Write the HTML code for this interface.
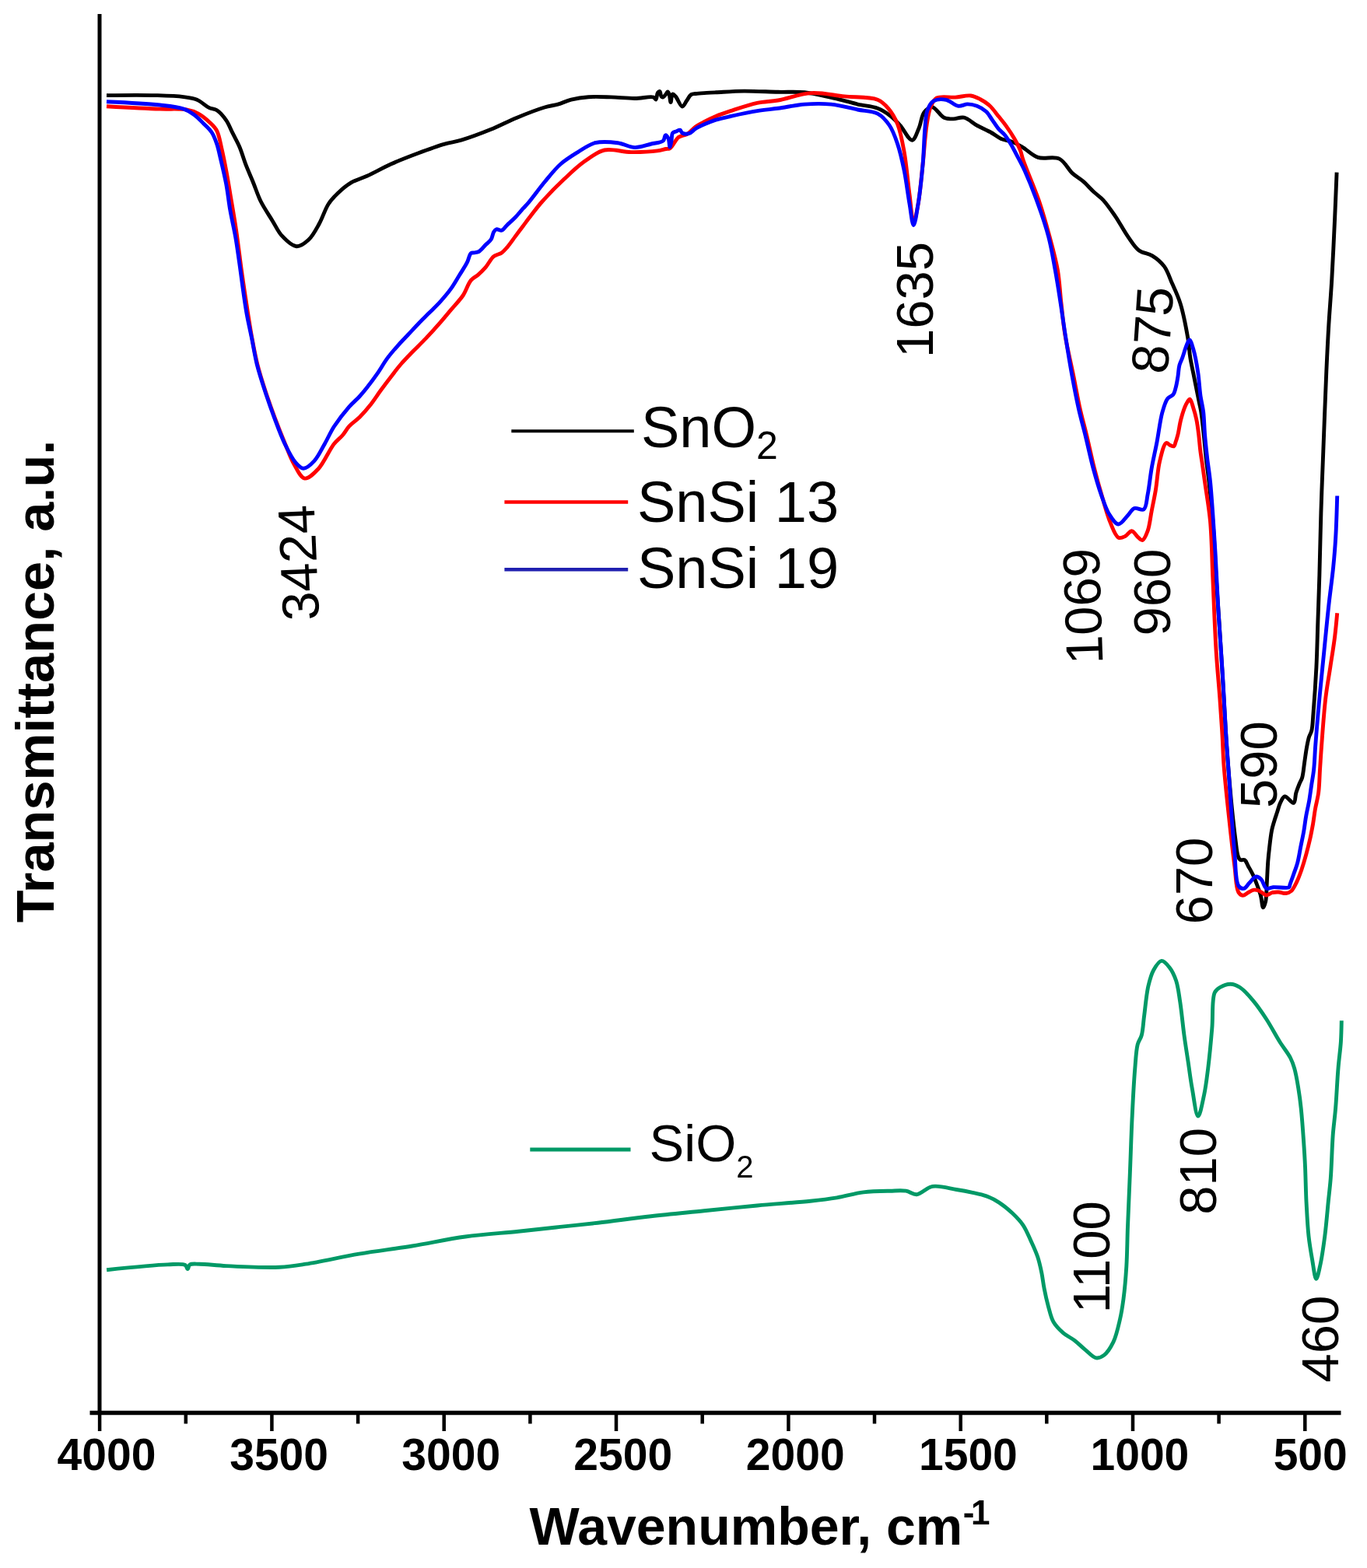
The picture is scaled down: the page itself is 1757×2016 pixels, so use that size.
<!DOCTYPE html>
<html><head><meta charset="utf-8"><title>FTIR spectra</title>
<style>
html,body{margin:0;padding:0;background:#fff;}
svg{display:block;}
text{font-family:"Liberation Sans",Arial,sans-serif;fill:#000;}
.tl{font-size:57px;font-weight:bold;text-anchor:middle;}
.ttl{font-size:68px;font-weight:bold;}
.ttl2{font-size:68.5px;font-weight:bold;}
.sup{font-size:44px;font-weight:bold;}
.lg{font-size:74px;}
.lg2{font-size:67px;}
.sub{font-size:50px;}
.sub2{font-size:40px;}
.pk{font-size:67px;}
</style></head>
<body>
<svg width="1757" height="2016" viewBox="0 0 1757 2016">
<rect width="1757" height="2016" fill="#fff"/>
<line x1="128" y1="18" x2="128" y2="1818.5" stroke="#000" stroke-width="5"/>
<line x1="115.5" y1="1816.5" x2="1723.5" y2="1816.5" stroke="#000" stroke-width="5.5"/>
<line x1="128.1" y1="1816" x2="128.1" y2="1840" stroke="#000" stroke-width="4.5"/>
<text x="137.0" y="1890" class="tl">4000</text>
<line x1="238.8" y1="1816" x2="238.8" y2="1830.5" stroke="#000" stroke-width="4.5"/>
<line x1="349.4" y1="1816" x2="349.4" y2="1840" stroke="#000" stroke-width="4.5"/>
<text x="358.6" y="1890" class="tl">3500</text>
<line x1="460.1" y1="1816" x2="460.1" y2="1830.5" stroke="#000" stroke-width="4.5"/>
<line x1="570.7" y1="1816" x2="570.7" y2="1840" stroke="#000" stroke-width="4.5"/>
<text x="579.7" y="1890" class="tl">3000</text>
<line x1="681.4" y1="1816" x2="681.4" y2="1830.5" stroke="#000" stroke-width="4.5"/>
<line x1="792.0" y1="1816" x2="792.0" y2="1840" stroke="#000" stroke-width="4.5"/>
<text x="800.7" y="1890" class="tl">2500</text>
<line x1="902.7" y1="1816" x2="902.7" y2="1830.5" stroke="#000" stroke-width="4.5"/>
<line x1="1013.4" y1="1816" x2="1013.4" y2="1840" stroke="#000" stroke-width="4.5"/>
<text x="1022.2" y="1890" class="tl">2000</text>
<line x1="1124.0" y1="1816" x2="1124.0" y2="1830.5" stroke="#000" stroke-width="4.5"/>
<line x1="1234.7" y1="1816" x2="1234.7" y2="1840" stroke="#000" stroke-width="4.5"/>
<text x="1244.4" y="1890" class="tl">1500</text>
<line x1="1345.3" y1="1816" x2="1345.3" y2="1830.5" stroke="#000" stroke-width="4.5"/>
<line x1="1456.0" y1="1816" x2="1456.0" y2="1840" stroke="#000" stroke-width="4.5"/>
<text x="1464.9" y="1890" class="tl">1000</text>
<line x1="1566.6" y1="1816" x2="1566.6" y2="1830.5" stroke="#000" stroke-width="4.5"/>
<line x1="1677.3" y1="1816" x2="1677.3" y2="1840" stroke="#000" stroke-width="4.5"/>
<text x="1684.2" y="1890" class="tl">500</text>
<path d="M137.1,1632.7C137.1,1632.7 197.4,1626.4 215.6,1625.9C225.3,1625.6 234.1,1624.3 238.0,1626.5C240.0,1627.6 240.2,1631.5 241.2,1631.5C242.2,1631.5 242.2,1627.2 244.0,1626.0C246.5,1624.3 251.4,1625.2 256.6,1625.2C265.2,1625.2 277.4,1627.0 290.8,1627.6C309.7,1628.5 340.3,1630.2 359.1,1629.3C372.4,1628.7 379.9,1627.3 393.2,1625.2C412.1,1622.3 438.7,1616.1 461.5,1612.2C484.2,1608.3 507.1,1605.7 529.8,1602.0C552.6,1598.3 575.3,1593.1 598.1,1590.0C620.8,1586.9 645.0,1585.4 666.4,1583.2C685.4,1581.2 702.6,1579.3 720.0,1577.4C736.5,1575.6 750.8,1574.2 768.3,1572.2C789.1,1569.8 813.8,1566.3 836.6,1563.7C859.4,1561.1 882.1,1559.1 904.9,1556.8C927.7,1554.5 950.4,1552.1 973.2,1550.0C996.0,1547.9 1022.6,1546.2 1041.5,1544.2C1054.9,1542.8 1064.3,1541.7 1075.7,1539.8C1087.1,1537.9 1098.4,1534.3 1109.8,1532.9C1121.1,1531.5 1134.0,1531.4 1144.0,1531.2C1151.7,1531.0 1158.4,1530.2 1164.5,1531.2C1169.6,1532.0 1173.2,1536.1 1178.1,1535.7C1184.3,1535.2 1190.8,1526.7 1198.6,1525.4C1207.6,1523.9 1220.2,1528.0 1229.4,1529.5C1237.0,1530.7 1243.5,1531.9 1250.0,1533.3C1256.0,1534.6 1261.5,1535.5 1267.1,1537.6C1272.9,1539.7 1278.6,1542.6 1284.1,1546.1C1290.0,1549.9 1296.0,1554.9 1301.2,1559.8C1306.2,1564.6 1311.0,1569.3 1314.9,1575.1C1319.0,1581.2 1321.9,1588.7 1325.1,1595.6C1328.2,1602.4 1331.4,1609.2 1333.7,1616.1C1335.9,1622.8 1337.4,1629.7 1338.8,1636.6C1340.2,1643.4 1340.8,1650.2 1342.2,1657.1C1343.6,1664.4 1345.3,1672.1 1347.3,1679.3C1349.3,1686.3 1350.7,1694.0 1354.1,1699.8C1357.2,1705.2 1361.6,1709.4 1366.1,1713.4C1370.7,1717.4 1376.6,1720.0 1381.5,1723.7C1386.3,1727.4 1390.5,1731.9 1395.1,1735.6C1399.6,1739.2 1404.4,1745.2 1408.8,1745.9C1412.3,1746.5 1415.8,1744.8 1419.0,1742.4C1423.4,1739.1 1427.7,1732.1 1431.0,1725.4C1434.9,1717.3 1437.3,1705.8 1439.5,1696.3C1441.6,1687.4 1442.7,1679.8 1444.0,1670.0C1445.6,1657.7 1446.9,1642.9 1447.8,1628.3C1448.8,1612.1 1448.8,1595.1 1449.5,1576.8C1450.3,1555.8 1451.4,1532.3 1452.3,1509.3C1453.3,1485.1 1454.0,1458.5 1455.2,1434.9C1456.2,1413.5 1457.4,1390.6 1458.8,1373.7C1459.8,1361.7 1460.2,1350.7 1462.2,1342.9C1463.5,1337.9 1466.0,1335.8 1467.3,1331.0C1469.2,1324.2 1469.4,1314.7 1470.7,1305.4C1472.2,1294.1 1473.4,1278.4 1475.9,1267.8C1477.8,1259.8 1479.5,1253.0 1482.7,1247.3C1485.4,1242.5 1489.3,1235.7 1492.9,1235.4C1496.2,1235.1 1500.3,1240.2 1503.2,1243.9C1506.7,1248.3 1509.5,1254.5 1511.7,1261.0C1514.3,1268.9 1515.2,1278.2 1516.8,1288.3C1518.7,1300.9 1520.2,1317.6 1522.0,1331.0C1523.6,1343.0 1525.4,1353.7 1527.1,1365.1C1528.8,1376.5 1530.1,1387.8 1532.2,1399.3C1534.4,1411.1 1537.1,1435.0 1539.9,1435.1C1542.3,1435.2 1545.5,1417.5 1547.6,1407.8C1549.9,1397.1 1551.1,1386.2 1552.7,1373.7C1554.6,1358.4 1556.4,1339.1 1557.8,1322.4C1559.2,1306.6 1557.4,1284.5 1561.2,1276.3C1562.9,1272.5 1565.1,1271.3 1568.0,1269.5C1571.6,1267.3 1577.3,1265.1 1581.7,1265.2C1585.8,1265.3 1589.6,1266.9 1593.7,1269.5C1599.3,1273.0 1605.3,1280.2 1610.7,1286.6C1616.7,1293.7 1622.3,1302.0 1627.8,1310.5C1633.7,1319.6 1639.4,1330.7 1644.9,1339.5C1649.6,1347.0 1655.3,1353.7 1658.5,1360.0C1661.0,1364.9 1662.2,1368.4 1663.7,1373.7C1665.8,1380.8 1667.4,1390.7 1668.8,1399.3C1670.2,1407.8 1671.2,1415.3 1672.2,1424.9C1673.5,1437.3 1674.7,1454.3 1675.6,1467.6C1676.4,1479.1 1677.0,1488.3 1677.5,1500.0C1678.1,1513.7 1678.3,1529.7 1679.0,1544.6C1679.8,1559.5 1680.5,1575.9 1682.0,1589.3C1683.2,1600.2 1684.8,1609.5 1686.5,1619.0C1688.1,1627.8 1689.8,1644.2 1691.7,1644.3C1693.3,1644.4 1695.3,1633.6 1696.9,1626.5C1699.2,1616.4 1701.1,1602.3 1702.8,1589.3C1704.6,1575.1 1706.0,1558.0 1707.3,1544.6C1708.4,1533.7 1709.4,1526.4 1710.3,1514.9C1711.5,1499.2 1712.0,1475.3 1713.2,1459.0C1714.2,1446.2 1715.6,1437.4 1716.6,1424.9C1717.9,1409.6 1718.7,1389.0 1720.0,1373.7C1721.0,1361.1 1722.7,1350.3 1723.4,1339.5C1724.0,1329.9 1724.3,1312.2 1724.3,1312.2" fill="none" stroke="#009966" stroke-width="4.9" stroke-linejoin="round" stroke-linecap="butt"/>
<path d="M137.0,122.6C137.0,122.6 182.1,122.1 200.2,122.6C213.8,123.0 226.3,123.3 236.0,124.6C242.8,125.5 247.8,126.0 253.2,128.2C258.7,130.5 263.8,136.1 268.5,138.4C272.1,140.2 275.5,139.7 278.8,141.8C283.0,144.5 287.3,149.8 290.7,154.6C294.2,159.7 296.4,166.0 299.3,171.7C302.1,177.4 305.1,182.5 307.8,188.8C310.9,196.0 313.3,205.1 316.3,212.7C319.1,219.8 321.9,226.0 324.9,233.2C328.2,241.2 331.0,250.4 335.1,258.8C339.4,267.5 345.7,276.5 350.5,284.4C354.7,291.2 357.4,297.8 362.4,303.2C367.5,308.7 375.1,316.4 381.2,316.8C386.5,317.1 392.1,312.5 396.6,308.3C402.0,303.4 406.1,295.2 410.2,287.8C414.6,279.9 417.7,269.2 422.2,262.2C425.8,256.6 429.5,252.9 434.1,248.5C439.1,243.7 445.0,238.6 451.2,234.9C457.5,231.2 464.2,229.7 471.7,226.3C481.0,222.1 491.8,215.8 502.4,211.0C513.4,206.1 525.2,201.6 536.6,197.3C547.9,193.1 560.5,188.4 570.7,185.4C578.8,183.0 584.6,182.7 592.9,180.2C603.9,176.9 618.4,171.5 630.5,166.6C642.2,161.8 653.0,156.0 664.6,151.2C676.2,146.4 690.2,140.9 700.0,138.0C706.6,136.0 711.5,135.7 717.1,134.1C722.8,132.5 728.0,129.7 734.1,128.2C740.9,126.5 748.4,125.3 756.3,124.7C765.3,124.0 775.6,124.6 785.4,124.9C795.5,125.2 806.5,126.6 816.1,126.5C824.5,126.5 835.8,123.5 839.9,125.0C841.6,125.6 842.2,128.2 843.0,128.0C844.2,127.7 844.2,120.6 845.5,119.0C846.2,118.1 847.3,117.2 848.0,117.5C849.0,117.9 849.0,122.8 850.0,124.0C850.6,124.7 851.3,125.1 852.0,125.0C853.2,124.8 854.9,122.3 856.0,121.0C856.9,120.0 857.4,118.0 858.1,118.0C858.8,118.0 859.5,119.6 860.0,121.0C861.0,123.4 861.4,131.5 862.1,131.5C862.8,131.5 862.9,121.5 864.4,121.0C865.4,120.6 867.0,122.5 868.4,124.0C870.9,126.7 874.3,136.9 876.9,137.0C878.9,137.1 880.7,132.1 882.6,129.6C884.5,127.0 886.1,123.0 888.3,121.6C890.0,120.5 891.7,120.8 894.0,120.5C897.7,120.0 903.7,119.7 908.2,119.4C912.3,119.1 915.0,119.0 920.0,118.8C928.8,118.4 943.5,117.2 956.1,117.1C970.0,117.0 986.3,118.0 1000.0,118.3C1012.1,118.6 1022.2,117.5 1034.1,118.8C1047.6,120.2 1064.4,124.4 1076.8,127.3C1086.5,129.5 1093.8,132.1 1102.4,134.1C1110.9,136.1 1120.5,136.4 1128.0,139.3C1134.5,141.8 1140.1,145.6 1145.1,149.5C1149.7,153.1 1153.0,156.9 1157.1,161.5C1162.0,166.9 1168.2,180.6 1172.4,180.2C1175.9,179.9 1178.5,170.5 1181.0,164.9C1183.7,158.7 1184.3,149.1 1187.8,144.4C1190.5,140.9 1194.4,137.4 1198.0,137.6C1202.7,137.9 1208.2,148.8 1213.4,151.2C1217.4,153.0 1221.3,152.9 1225.4,152.9C1229.8,152.9 1234.4,150.2 1239.0,151.2C1244.6,152.4 1250.3,158.3 1256.1,161.5C1261.7,164.6 1267.9,167.0 1273.2,170.0C1278.1,172.7 1282.1,176.5 1286.8,178.5C1291.1,180.4 1295.6,180.4 1300.0,182.0C1304.6,183.7 1308.8,186.0 1313.7,188.8C1319.9,192.4 1326.4,199.8 1334.1,202.4C1342.2,205.1 1354.0,200.5 1361.5,204.1C1368.7,207.6 1372.9,217.8 1378.5,222.9C1383.1,227.1 1387.8,229.4 1392.2,233.2C1396.9,237.3 1401.4,242.7 1405.9,246.8C1409.9,250.5 1413.8,252.8 1417.8,257.1C1422.9,262.6 1428.1,270.2 1433.2,277.6C1438.9,285.9 1444.6,297.0 1450.2,304.9C1454.8,311.4 1458.5,318.0 1463.9,322.0C1468.9,325.7 1475.7,325.5 1481.0,328.8C1486.6,332.2 1492.1,336.8 1496.3,342.4C1500.9,348.5 1503.2,356.9 1506.6,364.6C1510.2,372.7 1513.9,380.2 1517.0,390.0C1521.0,402.7 1524.6,422.1 1526.8,434.9C1528.4,444.3 1528.5,451.5 1529.8,459.7C1531.1,468.0 1533.3,477.3 1534.7,484.5C1535.8,490.1 1536.6,494.1 1537.7,499.4C1538.9,505.5 1540.6,513.7 1541.7,519.2C1542.5,523.1 1543.0,524.9 1543.7,529.1C1544.9,536.5 1546.2,549.8 1547.3,560.0C1548.4,570.1 1549.2,580.0 1550.3,590.0C1551.4,600.0 1552.7,608.3 1554.0,620.0C1555.8,636.6 1558.1,660.0 1559.6,680.0C1561.1,700.0 1561.8,720.0 1563.0,740.0C1564.2,760.0 1565.6,778.6 1567.0,800.0C1568.6,824.8 1570.5,854.2 1572.0,880.0C1573.4,904.1 1574.6,928.4 1576.0,950.0C1577.2,968.6 1578.6,985.0 1580.0,1002.0C1581.4,1018.3 1583.0,1035.9 1584.5,1050.0C1585.7,1061.2 1586.8,1071.0 1588.0,1080.0C1589.0,1087.3 1589.5,1095.5 1591.0,1100.0C1591.8,1102.5 1592.5,1104.6 1594.0,1105.5C1595.4,1106.4 1598.1,1104.7 1599.7,1105.7C1601.7,1106.9 1602.7,1110.8 1604.4,1113.7C1606.4,1117.3 1608.9,1121.6 1610.8,1125.6C1612.6,1129.5 1614.1,1133.4 1615.6,1137.5C1617.2,1141.8 1619.0,1146.3 1620.3,1151.0C1621.7,1156.0 1622.2,1166.7 1623.5,1166.8C1624.4,1166.9 1625.9,1162.3 1626.7,1158.9C1628.0,1153.2 1627.8,1143.3 1628.3,1135.1C1628.8,1126.2 1629.2,1115.3 1629.8,1107.3C1630.3,1101.3 1630.7,1097.2 1631.4,1091.4C1632.2,1084.3 1633.3,1074.1 1634.6,1067.6C1635.5,1062.9 1636.6,1059.7 1637.8,1055.7C1639.0,1051.7 1640.4,1047.8 1641.7,1043.8C1643.0,1039.8 1643.9,1035.4 1645.7,1031.9C1647.2,1028.9 1648.8,1024.4 1651.3,1024.0C1654.3,1023.5 1660.4,1033.3 1662.8,1032.4C1665.1,1031.5 1664.6,1023.6 1665.8,1019.5C1667.0,1015.5 1668.6,1011.5 1670.0,1008.0C1671.2,1005.0 1672.7,1003.1 1673.7,999.7C1675.2,994.6 1675.7,986.4 1676.7,979.8C1677.7,973.2 1678.6,965.8 1679.7,960.0C1680.6,955.4 1681.3,951.5 1682.4,947.8C1683.4,944.7 1684.9,942.9 1685.8,939.3C1687.2,933.7 1687.2,926.4 1688.0,917.3C1689.2,902.3 1690.9,877.6 1691.9,857.8C1692.9,838.0 1693.2,818.1 1693.9,798.3C1694.6,778.4 1695.3,760.0 1695.9,738.7C1696.6,714.2 1697.1,685.8 1697.9,659.4C1698.7,632.9 1699.7,608.1 1700.8,580.0C1702.0,548.0 1703.5,507.1 1704.8,477.6C1705.8,455.1 1706.6,437.9 1707.8,418.1C1709.0,398.3 1710.6,379.9 1711.8,358.6C1713.2,334.0 1714.6,303.5 1715.7,279.2C1716.6,258.5 1718.1,221.7 1718.1,221.7" fill="none" stroke="#000" stroke-width="4.9" stroke-linejoin="round" stroke-linecap="butt"/>
<path d="M137.0,136.7C137.0,136.7 186.5,139.4 205.4,140.1C218.7,140.6 230.5,139.4 239.5,141.0C245.7,142.1 250.0,143.5 254.9,146.1C260.3,149.0 266.0,153.9 270.2,158.0C273.7,161.4 276.5,163.9 278.8,168.3C281.8,174.1 282.9,182.4 284.8,190.5C287.1,200.2 289.4,212.2 291.4,222.9C293.3,233.3 294.8,242.6 296.6,253.7C298.8,266.7 301.4,281.4 303.6,296.3C306.0,312.6 308.0,330.4 310.4,347.6C312.8,365.0 315.8,384.4 318.2,400.0C320.2,412.6 321.7,422.7 323.8,434.1C325.9,445.5 328.0,457.0 330.8,468.3C333.7,479.7 337.3,491.1 341.0,502.4C344.7,513.8 348.8,525.3 353.0,536.6C357.3,548.0 362.1,560.1 366.5,570.7C370.4,580.1 373.5,589.3 378.0,597.0C382.0,603.9 386.4,614.3 391.7,615.1C396.8,615.9 403.4,608.9 408.8,603.2C416.2,595.5 423.2,578.4 429.3,570.7C433.1,565.9 436.7,563.8 440.0,560.0C443.3,556.2 445.4,551.7 448.9,547.9C452.7,543.8 458.0,540.6 462.3,536.3C466.9,531.7 471.4,526.6 475.7,521.1C480.3,515.3 484.6,508.5 489.1,502.3C493.5,496.3 498.0,490.3 502.5,484.5C506.9,478.7 511.3,472.8 515.9,467.5C520.3,462.4 524.5,458.2 529.3,453.2C534.8,447.5 541.2,441.6 547.1,435.4C553.1,429.1 559.4,422.2 565.0,415.7C570.3,409.7 575.0,403.8 580.0,397.9C585.0,391.9 590.7,386.3 595.0,380.0C599.1,373.8 601.4,365.0 605.3,360.4C608.0,357.1 611.2,356.2 614.2,353.6C617.6,350.6 621.1,347.1 624.4,343.3C627.9,339.2 630.8,332.8 634.6,329.7C637.7,327.2 642.0,326.9 644.9,324.9C647.6,323.0 649.3,320.9 651.7,318.1C654.9,314.4 658.6,309.0 662.0,304.4C665.4,299.8 668.8,295.3 672.2,290.7C675.6,286.2 678.8,281.9 682.5,277.1C686.7,271.7 690.5,266.3 696.1,260.0C703.9,251.2 715.9,238.9 725.6,229.8C734.3,221.6 742.3,213.9 751.2,207.6C759.5,201.8 767.3,195.1 776.8,193.0C787.1,190.7 799.6,195.5 811.0,195.6C822.4,195.7 836.9,195.0 845.1,193.9C849.8,193.3 853.1,192.0 856.0,191.5C857.8,191.2 859.2,191.6 860.5,191.0C861.9,190.3 862.9,188.9 864.0,187.5C865.4,185.8 866.6,183.4 868.0,181.5C869.3,179.7 870.4,177.7 872.0,176.5C873.5,175.4 875.2,175.1 877.0,174.5C878.9,173.8 880.8,173.7 883.0,172.5C886.3,170.6 890.2,165.7 894.0,163.0C897.6,160.4 901.3,158.6 905.4,156.5C909.9,154.1 914.8,151.7 920.0,149.5C925.9,147.1 931.7,145.1 939.0,142.7C948.7,139.5 962.4,134.7 973.2,132.4C982.6,130.4 990.1,130.7 1000.0,129.0C1012.6,126.8 1028.4,120.4 1042.7,119.6C1056.9,118.8 1071.2,122.5 1085.4,123.9C1099.6,125.3 1118.1,124.1 1128.0,128.2C1134.3,130.8 1137.7,134.6 1141.7,139.3C1146.4,144.8 1150.5,151.7 1153.7,159.8C1157.7,169.8 1159.8,182.4 1162.2,195.6C1165.1,211.8 1166.8,233.7 1169.0,250.0C1170.8,263.2 1172.1,285.9 1174.2,286.0C1175.9,286.1 1178.4,271.7 1180.1,262.2C1182.6,248.4 1184.2,228.1 1186.1,211.0C1187.9,193.9 1189.0,173.4 1191.2,159.8C1192.7,150.6 1193.7,143.0 1196.3,137.0C1198.3,132.4 1199.9,128.2 1203.9,126.0C1209.2,123.1 1220.2,125.6 1227.8,125.1C1234.7,124.6 1242.0,122.3 1247.7,123.0C1252.3,123.6 1255.8,125.5 1259.7,127.5C1263.8,129.6 1267.8,132.1 1271.6,135.5C1275.9,139.3 1279.9,145.2 1283.6,149.8C1287.0,154.0 1290.0,157.4 1293.1,161.8C1296.6,166.7 1300.4,172.3 1303.5,177.7C1306.5,182.9 1309.5,188.6 1311.5,193.7C1313.2,198.0 1313.2,200.5 1315.1,205.9C1319.0,217.4 1329.8,241.7 1335.6,258.8C1341.0,274.6 1345.1,289.8 1349.2,304.9C1353.1,319.4 1357.0,333.3 1359.5,347.6C1361.9,361.7 1362.4,376.0 1364.0,390.0C1365.6,403.8 1366.6,416.6 1369.0,431.0C1371.6,447.1 1376.2,465.7 1379.5,482.0C1382.5,496.9 1385.0,511.5 1388.0,525.0C1390.7,537.0 1393.6,547.0 1396.5,559.0C1399.8,572.5 1403.0,588.1 1406.5,602.0C1409.8,615.1 1413.4,627.9 1417.0,640.0C1420.3,651.3 1423.4,663.2 1427.3,672.4C1430.4,679.7 1433.5,689.3 1437.6,691.2C1440.2,692.4 1443.4,690.8 1446.1,689.5C1449.1,688.1 1451.8,682.6 1454.6,682.7C1457.5,682.9 1460.6,689.1 1463.2,691.2C1465.0,692.7 1466.7,695.0 1468.3,694.6C1470.7,694.0 1473.3,687.6 1475.1,682.7C1477.6,675.9 1478.5,665.7 1480.2,657.0C1481.9,648.1 1483.8,639.7 1485.4,630.0C1487.3,618.7 1487.9,604.2 1490.5,593.4C1492.7,584.5 1495.7,570.7 1499.0,569.5C1500.6,568.9 1502.3,571.8 1504.0,572.5C1505.6,573.2 1507.8,574.4 1508.9,573.8C1510.1,573.2 1510.2,570.8 1510.9,568.8C1511.9,566.1 1512.9,562.8 1513.9,558.9C1515.3,553.4 1516.1,545.6 1517.9,539.0C1519.7,532.3 1522.4,523.7 1524.8,519.2C1526.3,516.5 1527.9,513.1 1529.3,513.3C1531.0,513.5 1532.4,520.2 1533.7,524.2C1535.2,528.7 1536.6,533.7 1537.7,539.0C1539.0,545.1 1539.9,552.3 1540.7,558.9C1541.5,565.5 1541.9,572.1 1542.7,578.7C1543.5,585.3 1544.6,591.8 1545.6,598.6C1546.6,605.6 1547.4,611.4 1548.6,620.0C1550.4,633.2 1553.8,651.8 1555.5,670.0C1557.5,691.9 1557.6,716.8 1558.8,742.4C1560.1,771.4 1561.3,806.9 1563.0,835.0C1564.4,858.6 1566.6,880.3 1568.0,900.0C1569.2,916.4 1570.1,930.4 1571.0,945.0C1571.8,958.8 1571.9,970.2 1573.1,985.4C1574.6,1005.2 1577.5,1031.7 1579.9,1053.7C1582.1,1074.3 1584.6,1096.4 1586.8,1113.4C1588.5,1126.2 1588.4,1141.3 1591.7,1147.0C1593.2,1149.6 1595.3,1151.1 1597.3,1151.3C1599.5,1151.5 1602.0,1148.7 1604.4,1147.5C1606.8,1146.3 1609.3,1144.6 1611.6,1144.2C1613.5,1143.9 1615.3,1144.2 1617.1,1144.8C1619.2,1145.5 1621.6,1147.5 1623.5,1148.6C1625.0,1149.5 1625.9,1150.9 1627.5,1151.0C1629.7,1151.1 1632.7,1148.2 1635.4,1147.5C1638.0,1146.9 1640.5,1146.9 1643.3,1147.0C1646.4,1147.1 1650.0,1148.9 1652.9,1148.5C1655.4,1148.2 1657.7,1147.3 1659.8,1145.5C1662.6,1143.0 1664.7,1137.9 1666.8,1133.6C1669.1,1129.0 1670.8,1124.1 1672.7,1118.7C1674.8,1112.6 1676.9,1105.5 1678.7,1098.9C1680.5,1092.3 1682.2,1085.6 1683.7,1079.0C1685.2,1072.4 1686.4,1065.8 1687.6,1059.2C1688.7,1052.6 1689.4,1046.0 1690.6,1039.4C1691.8,1032.8 1693.6,1026.8 1694.6,1019.5C1695.8,1010.6 1695.9,999.7 1696.5,989.8C1697.2,979.9 1697.6,971.7 1698.5,960.0C1699.8,943.0 1701.6,915.9 1703.8,897.5C1705.5,882.7 1707.8,871.0 1709.8,857.8C1711.8,844.6 1714.2,830.4 1715.7,818.1C1717.0,807.5 1718.7,788.3 1718.7,788.3" fill="none" stroke="#ff0000" stroke-width="4.9" stroke-linejoin="round" stroke-linecap="butt"/>
<path d="M137.0,130.7C137.0,130.7 187.1,132.9 205.4,135.0C217.7,136.4 228.1,137.3 236.1,140.1C241.8,142.1 245.6,144.7 249.8,147.8C254.1,151.0 257.9,155.1 261.7,158.9C265.3,162.5 269.2,165.7 272.0,170.0C275.0,174.5 276.9,179.8 278.8,185.4C280.9,191.7 282.1,198.4 283.9,205.9C286.1,215.1 288.7,226.1 290.7,236.6C292.8,247.6 293.9,259.3 295.9,270.7C297.9,282.1 300.7,293.5 302.7,304.9C304.7,316.3 305.9,326.0 307.8,339.0C310.3,356.4 313.5,382.6 316.5,400.0C318.7,413.0 321.1,422.7 323.4,434.1C325.7,445.5 327.4,457.0 330.2,468.3C333.1,479.7 336.8,491.1 340.5,502.4C344.2,513.8 348.2,525.3 352.4,536.6C356.7,548.0 361.2,560.5 366.1,570.7C370.4,579.5 375.0,589.1 379.8,594.6C383.1,598.3 386.3,602.2 390.0,602.3C394.2,602.4 399.6,597.3 403.7,592.9C408.9,587.4 413.0,578.2 417.3,570.7C421.5,563.4 424.5,556.0 429.3,548.5C434.8,540.1 442.8,529.9 448.9,522.9C453.6,517.5 458.4,513.8 462.3,509.5C465.7,505.8 468.1,502.9 471.3,498.8C475.4,493.6 480.3,487.1 484.6,480.9C489.2,474.4 493.3,466.7 498.0,460.4C502.3,454.6 506.9,449.4 511.4,444.3C515.8,439.3 520.3,434.8 524.8,430.0C529.3,425.2 533.7,420.4 538.2,415.7C542.6,411.1 547.1,406.8 551.6,402.3C556.1,397.8 560.5,393.8 565.0,388.9C570.0,383.4 575.7,376.8 580.0,370.7C583.9,365.2 586.8,359.8 590.2,354.3C593.6,348.7 597.9,342.4 600.5,337.2C602.6,333.0 603.2,327.3 605.3,325.6C606.5,324.6 607.9,325.2 609.4,324.9C611.2,324.5 613.4,324.6 615.5,323.5C618.4,321.9 621.6,317.4 624.4,314.6C626.8,312.2 629.5,310.5 631.2,307.8C632.9,305.1 633.2,300.6 634.6,298.3C635.6,296.7 636.6,295.3 638.1,294.8C639.9,294.3 642.8,296.8 644.9,296.2C647.4,295.5 649.2,291.8 651.7,289.4C654.8,286.5 658.7,283.2 662.0,279.8C665.5,276.2 669.0,271.7 672.2,268.2C674.9,265.2 676.7,263.6 679.7,260.0C684.9,253.8 693.1,242.3 700.0,234.0C706.7,226.0 713.1,217.5 720.5,211.0C727.4,204.9 735.2,200.2 742.7,195.6C750.0,191.1 756.7,185.8 764.9,183.7C773.7,181.5 784.9,182.5 793.9,183.7C801.9,184.7 808.8,189.4 816.1,189.6C823.2,189.8 830.7,186.5 837.1,185.0C842.6,183.7 849.5,183.6 852.4,181.0C854.4,179.2 854.1,174.0 855.3,173.8C856.3,173.6 858.1,176.1 859.0,178.0C860.3,180.7 860.3,189.0 861.0,189.0C861.6,189.0 862.4,183.8 863.0,181.0C863.6,177.9 863.1,172.9 864.6,171.0C865.6,169.7 867.5,169.6 869.0,169.0C870.6,168.3 872.7,166.8 874.1,167.2C875.4,167.6 875.5,170.2 877.0,171.0C879.0,172.1 882.8,172.5 885.5,171.7C888.5,170.9 890.9,167.4 894.0,165.5C897.4,163.4 901.3,161.6 905.4,159.8C909.9,157.8 914.8,155.8 920.0,154.1C925.9,152.3 931.7,151.1 939.0,149.5C948.7,147.4 962.5,144.4 973.2,142.7C982.6,141.2 990.5,140.6 1000.0,139.3C1010.7,137.8 1022.7,135.0 1034.1,134.1C1045.5,133.2 1057.0,133.0 1068.3,134.1C1079.7,135.2 1091.8,138.9 1102.4,141.0C1111.5,142.8 1121.0,142.4 1128.0,146.1C1134.4,149.5 1139.2,155.3 1143.4,161.5C1148.0,168.2 1150.7,176.6 1153.7,185.4C1157.2,195.6 1159.7,207.4 1162.2,219.5C1164.9,232.9 1166.8,249.6 1169.0,262.2C1170.8,272.3 1172.4,289.5 1174.2,289.5C1176.1,289.5 1178.3,272.8 1180.1,262.2C1182.5,247.8 1184.6,227.6 1186.1,211.0C1187.5,195.5 1187.6,178.5 1188.8,165.8C1189.7,156.6 1189.6,148.3 1192.0,141.9C1193.8,137.0 1196.1,132.2 1199.9,129.9C1203.9,127.5 1210.7,127.3 1215.9,128.3C1221.4,129.3 1226.8,135.6 1231.8,136.3C1236.0,136.9 1239.7,133.9 1243.7,133.9C1247.7,133.9 1251.8,134.8 1255.7,136.3C1259.8,137.9 1264.3,140.4 1267.6,143.5C1270.9,146.5 1272.9,150.9 1275.6,154.6C1278.3,158.3 1280.8,162.5 1283.6,165.8C1286.1,168.8 1289.1,170.6 1291.6,173.7C1294.4,177.2 1297.1,181.7 1299.5,185.7C1301.8,189.6 1303.5,193.0 1305.9,197.6C1309.1,203.8 1313.2,210.9 1317.1,219.5C1322.4,231.3 1329.0,247.9 1334.1,262.2C1339.2,276.3 1344.1,290.6 1347.8,304.9C1351.5,319.0 1353.7,333.4 1356.3,347.6C1358.9,361.7 1361.0,376.0 1363.2,390.0C1365.3,403.8 1367.0,416.7 1369.3,431.2C1371.8,447.4 1374.8,466.1 1377.8,482.4C1380.5,497.3 1383.3,511.7 1386.3,525.1C1389.0,537.2 1391.9,547.3 1394.9,559.3C1398.2,572.7 1401.5,588.6 1405.1,602.0C1408.4,614.1 1411.7,625.7 1415.4,636.1C1418.6,645.1 1421.4,654.3 1425.6,661.0C1429.0,666.4 1433.5,673.9 1437.6,674.0C1441.5,674.1 1445.9,666.4 1449.5,662.8C1452.6,659.6 1454.5,654.8 1458.0,653.5C1461.4,652.2 1467.2,656.9 1470.0,655.0C1473.6,652.6 1473.6,643.4 1475.1,636.1C1477.1,626.4 1478.2,613.3 1480.2,602.0C1482.2,590.6 1484.9,579.5 1487.1,567.8C1489.4,555.6 1491.1,540.3 1493.9,530.2C1495.9,523.1 1497.7,516.4 1500.7,512.5C1502.8,509.8 1506.2,509.5 1507.9,507.3C1509.6,505.1 1510.0,502.5 1510.9,499.4C1512.1,495.3 1513.1,489.5 1513.9,484.5C1514.7,479.5 1514.8,474.0 1515.9,469.6C1516.9,465.9 1518.5,463.4 1519.8,459.7C1521.4,455.3 1523.1,448.9 1524.8,444.8C1526.1,441.7 1527.4,436.8 1528.8,436.9C1530.4,437.0 1532.3,444.0 1533.8,449.0C1536.1,456.7 1538.3,469.0 1539.8,479.0C1541.3,489.0 1541.7,500.0 1543.0,509.0C1544.1,516.4 1545.7,521.7 1546.6,529.1C1547.7,538.0 1547.8,549.0 1548.6,558.9C1549.4,568.8 1550.5,578.7 1551.6,588.7C1552.8,599.0 1554.3,606.9 1555.6,620.0C1557.8,642.2 1560.2,681.3 1562.0,710.0C1563.6,736.4 1564.5,760.2 1566.0,786.0C1567.6,812.8 1569.9,841.6 1571.5,868.0C1573.0,892.8 1574.0,916.9 1575.5,940.0C1576.9,961.5 1578.5,982.6 1579.9,1002.4C1581.1,1020.3 1582.1,1037.4 1583.3,1053.7C1584.4,1068.6 1585.4,1082.1 1586.8,1096.3C1588.2,1110.5 1587.6,1132.9 1591.9,1139.0C1593.7,1141.6 1596.6,1142.7 1598.7,1142.4C1601.1,1142.0 1603.1,1138.0 1605.5,1135.6C1608.2,1132.9 1611.2,1127.6 1614.1,1127.1C1616.4,1126.7 1618.9,1128.6 1620.9,1130.5C1623.6,1133.1 1624.7,1141.0 1627.7,1142.4C1630.1,1143.5 1632.8,1141.0 1636.3,1140.7C1641.7,1140.2 1654.2,1142.6 1656.8,1140.7C1657.9,1139.9 1657.4,1138.9 1657.9,1137.5C1658.9,1134.5 1661.2,1128.4 1662.8,1123.7C1664.5,1118.8 1666.4,1114.2 1667.8,1108.8C1669.4,1102.7 1670.4,1095.6 1671.7,1089.0C1673.0,1082.4 1674.5,1075.7 1675.7,1069.1C1676.9,1062.5 1677.5,1055.9 1678.7,1049.3C1679.9,1042.7 1681.5,1036.0 1682.7,1029.4C1683.8,1022.8 1684.6,1016.2 1685.6,1009.6C1686.6,1003.0 1687.8,997.1 1688.6,989.8C1689.6,980.9 1689.9,970.1 1690.6,960.0C1691.4,949.5 1692.3,938.5 1693.2,928.0C1694.1,917.7 1694.8,909.4 1695.9,897.5C1697.5,880.9 1699.8,857.8 1701.8,837.9C1703.8,818.1 1705.7,797.3 1707.8,778.4C1709.7,761.1 1712.2,744.2 1713.7,728.8C1715.0,715.4 1715.9,704.8 1716.7,691.1C1717.7,674.8 1718.7,637.5 1718.7,637.5" fill="none" stroke="#0000ff" stroke-width="4.9" stroke-linejoin="round" stroke-linecap="butt"/>
<line x1="657.3" y1="554.2" x2="814.8" y2="554.2" stroke="#000" stroke-width="4"/>
<line x1="648.4" y1="645.4" x2="807.2" y2="645.4" stroke="#ff0000" stroke-width="4.5"/>
<line x1="648.4" y1="732.3" x2="807.2" y2="732.3" stroke="#2020b0" stroke-width="4.5"/>
<line x1="681.3" y1="1478.1" x2="810.5" y2="1478.1" stroke="#009966" stroke-width="5"/>
<text x="824" y="574.5" class="lg">SnO<tspan class="sub" dy="15">2</tspan></text>
<text x="819" y="671" class="lg">SnSi 13</text>
<text x="819" y="755.5" class="lg">SnSi 19</text>
<text x="834.6" y="1492.5" class="lg2">SiO<tspan class="sub2" dy="21">2</tspan></text>
<text class="pk" transform="translate(383.5,723.7) rotate(-92.5) translate(-74.5,23.5)">3424</text>
<text class="pk" transform="translate(1175.3,385) rotate(-90) translate(-75.0,23.5)">1635</text>
<text class="pk" transform="translate(1481,424.8) rotate(-86) translate(-55.5,23.5)">875</text>
<text class="pk" transform="translate(1391.5,779.2) rotate(-92) translate(-75.0,23.5)">1069</text>
<text class="pk" transform="translate(1480.2,762) rotate(-90) translate(-55.5,23.5)">960</text>
<text class="pk" transform="translate(1617,983.6) rotate(-90) translate(-55.5,23.5)">590</text>
<text class="pk" transform="translate(1534.6,1133) rotate(-90) translate(-55.5,23.5)">670</text>
<text class="pk" transform="translate(1402.4,1615.7) rotate(-90) translate(-72.5,23.5)">1100</text>
<text class="pk" transform="translate(1539,1506.3) rotate(-90) translate(-55.5,23.5)">810</text>
<text class="pk" transform="translate(1696.1,1722.5) rotate(-90) translate(-55.0,23.5)">460</text>
<text x="680.5" y="1986" class="ttl">Wavenumber, cm</text>
<text x="1237.7" y="1959.5" class="sup">-</text>
<text x="1248" y="1959.5" class="sup">1</text>
<text class="ttl2" text-anchor="middle" transform="translate(68.5,876) rotate(-90)">Transmittance, a.u.</text>
</svg>
</body></html>
